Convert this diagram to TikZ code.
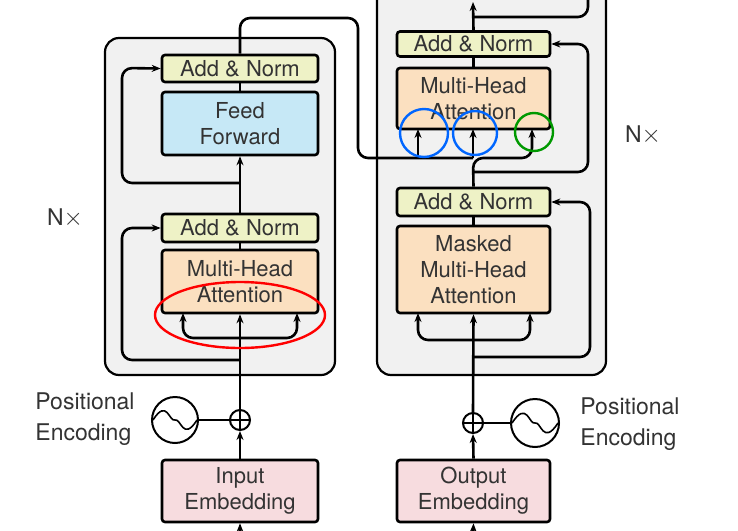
\documentclass[tikz,border=0pt]{standalone}
\usepackage{fontspec}
\setmainfont{TeX Gyre Heros}
\usetikzlibrary{arrows.meta,calc}
\definecolor{normc}{HTML}{EEF2C6}
\definecolor{ffc}{HTML}{C6E8F6}
\definecolor{attc}{HTML}{FBE0C0}
\definecolor{embc}{HTML}{F7DCDF}
\definecolor{outc}{HTML}{F1F1F1}
\definecolor{txtc}{HTML}{333333}
\begin{document}
\begin{tikzpicture}[x=1pt,y=-1pt,
  blk/.style={draw,line width=2.6pt,rounded corners=3pt,minimum width=156pt,text=txtc,font=\fontsize{22}{26}\selectfont,align=center,inner sep=0pt},
  outer/.style={draw,line width=2.2pt,rounded corners=14pt,fill=outc},
  wire/.style={line width=2.6pt,rounded corners=10pt},
  arr/.style={wire,-{Stealth[length=9pt,width=7pt]}},
  lbl/.style={text=txtc,font=\fontsize{23}{31}\selectfont,align=left},
  hilite/.style={line width=2.4pt}]
\useasboundingbox (0,0) rectangle (738,530);
\begin{scope}
\clip (0,0) rectangle (738,530);
% outer boxes
\draw[outer] (105,38) rectangle (335,375);
\draw[outer] (377,-30) rectangle (606,375);

% encoder
\node[blk,fill=normc,minimum height=27pt] (ean2) at (240,68.5) {Add \& Norm};
\node[blk,fill=ffc,minimum height=63pt] (eff) at (240,123.5) {Feed\\Forward};
\node[blk,fill=normc,minimum height=28pt] (ean1) at (240,228) {Add \& Norm};
\node[blk,fill=attc,minimum height=63pt] (emha) at (240,281.5) {Multi-Head\\Attention};
\node[blk,fill=embc,minimum height=62pt] (iemb) at (240,491) {Input\\Embedding};
\node[draw,circle,line width=2pt,minimum size=20pt,inner sep=0pt] (eplus) at (240,420) {};
\draw[line width=1.6pt] (eplus.north) -- (eplus.south) (eplus.west) -- (eplus.east);
\node[draw,circle,line width=2pt,minimum size=46pt] (epe) at (175,420) {};
\draw[line width=1.6pt] ($(epe)+(-22,0)$) .. controls ($(epe)+(-8,-22)$) and ($(epe)+(-6,2)$) .. ($(epe)$) .. controls ($(epe)+(6,-2)$) and ($(epe)+(8,22)$) .. ($(epe)+(22,0)$);
\node[lbl] (epel) at (85,419) {Positional\\Encoding};
\node[lbl] (enx) at (65,218) {N$\times$};

\coordinate (ein) at (240,540);
\draw[arr] (ein) -- (iemb.south);
\draw[arr] (iemb.north) -- (eplus.south);
\draw[wire] (epe.east) -- (eplus.west);
\draw[arr] (eplus.north) -- (emha.south);
\draw[arr] (240,338) -| (183,313);
\draw[arr] (240,338) -| (297,313);
\draw[wire] (emha.north) -- (ean1.south);
\draw[arr] (240,360) -| (122,228) -- (ean1.west);
\draw[arr] (ean1.north) -- (eff.south);
\draw[wire] (eff.north) -- (ean2.south);
\draw[arr] (240,183) -| (122,68) -- (ean2.west);

% decoder
\node[blk,fill=normc,minimum height=25pt,minimum width=153pt] (dan2) at (473.5,44) {Add \& Norm};
\node[blk,fill=attc,minimum height=61pt,minimum width=153pt] (dmha) at (473.5,98.5) {Multi-Head\\Attention};
\node[blk,fill=normc,minimum height=28pt,minimum width=153pt] (dan1) at (473.5,202) {Add \& Norm};
\node[blk,fill=attc,minimum height=87pt,minimum width=153pt] (dmm) at (473.5,269.5) {Masked\\Multi-Head\\Attention};
\node[blk,fill=embc,minimum height=62pt,minimum width=153pt] (oemb) at (473.5,491) {Output\\Embedding};
\node[draw,circle,line width=2pt,minimum size=20pt,inner sep=0pt] (dplus) at (473,423) {};
\draw[line width=1.6pt] (dplus.north) -- (dplus.south) (dplus.west) -- (dplus.east);
\node[draw,circle,line width=2pt,minimum size=48pt] (dpe) at (535,423) {};
\draw[line width=1.6pt] ($(dpe)+(-23,0)$) .. controls ($(dpe)+(-8,-23)$) and ($(dpe)+(-6,2)$) .. ($(dpe)$) .. controls ($(dpe)+(6,-2)$) and ($(dpe)+(8,23)$) .. ($(dpe)+(23,0)$);
\node[lbl] (dpel) at (630,424) {Positional\\Encoding};
\node[lbl] (dnx) at (643,135) {N$\times$};

\coordinate (din) at (473,540);
\draw[arr] (din) -- (oemb.south);
\draw[arr] (oemb.north) -- (dplus.south);
\draw[wire] (dpe.west) -- (dplus.east);
\draw[arr] (dplus.north) -- (dmm.south);
\draw[arr] (473,340) -| (418,313);
\draw[arr] (473,340) -| (530,313);
\draw[wire] (dmm.north) -- (dan1.south);
\draw[arr] (473,357) -| (590,202) -- (dan1.east);
\draw[arr] (dan1.north) -- (473,158) -| (532,129);
\draw[arr] (473,172) -| (588,44) -- (dan2.east);
\draw[wire] (dmha.north) -- (dan2.south);
\coordinate (dtop) at (473,2);
\draw[arr] (dan2.north) -- (dtop);
\draw[wire] (473,17) -| (588,-30);

% encoder output to decoder
\draw[wire] (ean2.north) -- (240,18) -| (358,158) -- (473,158);
\draw[arr] (418,158) -- (418,129);
\draw[arr] (473,158) -- (473,129);

% highlight marks
\draw[hilite,red] (240,315) ellipse (85pt and 33pt);
\draw[hilite,blue!60!cyan] (424,133) circle (24pt);
\draw[hilite,blue!60!cyan] (475,133) circle (22pt);
\draw[hilite,green!60!black] (534,132) circle (19pt);
\end{scope}
\end{tikzpicture}
\end{document}
